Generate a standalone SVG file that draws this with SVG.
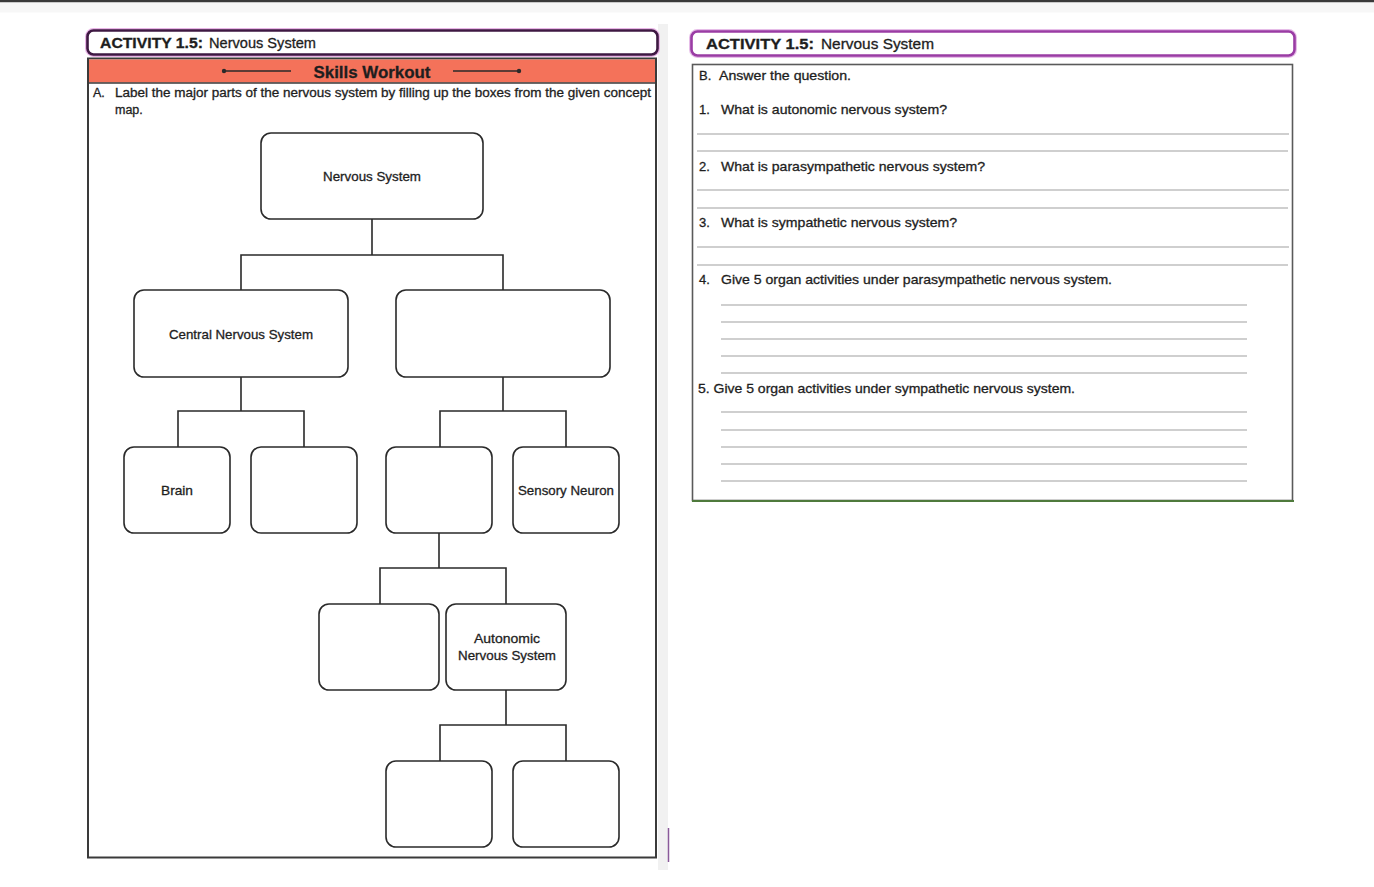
<svg xmlns="http://www.w3.org/2000/svg" width="1374" height="887" viewBox="0 0 1374 887">
<style>
  text { font-family: "Liberation Sans", Arial, sans-serif; fill: #1e1e1e; stroke: #1e1e1e; stroke-width: 0.3; }
  .node rect { fill: #fff; stroke: #2a2a2a; stroke-width: 1.6; }
  .node text { font-size: 13px; text-anchor: middle; }
  .conn path { fill: none; stroke: #2a2a2a; stroke-width: 1.6; }
  .rule { stroke: #cfcfcf; stroke-width: 2; }
  .q { font-size: 13px; }
  .hb { font-size: 14.5px; font-weight: bold; }
  .hn { font-size: 14.5px; }
</style>
<rect x="0" y="0" width="1374" height="887" fill="#ffffff"/>
<rect x="0" y="0" width="1374" height="2.5" fill="#3a3a3a"/>
<rect x="0" y="2.5" width="1374" height="10" fill="#f7f7f7"/>
<rect x="658" y="24" width="10" height="846" fill="#f1f1f1"/>
<line x1="668.5" y1="828" x2="668.5" y2="862" stroke="#8a5a9a" stroke-width="1.5"/>

<!-- Left panel -->
<g id="left-header">
  <rect x="87.5" y="30.5" width="570" height="24" rx="6" fill="#fff" stroke="#e8b4e6" stroke-width="5"/>
  <rect x="87.5" y="30.5" width="570" height="24" rx="6" fill="#fff" stroke="#3e1842" stroke-width="2.6"/>
  <text x="100" y="48" class="hb" textLength="103" lengthAdjust="spacingAndGlyphs">ACTIVITY 1.5:</text>
  <text x="209" y="48" class="hn" textLength="107" lengthAdjust="spacingAndGlyphs">Nervous System</text>
</g>
<g id="left-frame">
  <rect x="88" y="58.5" width="568" height="799" fill="none" stroke="#3a3a3a" stroke-width="2"/>
  <rect x="89" y="59.5" width="566" height="23" fill="#f4725a"/>
  <line x1="88" y1="83" x2="656" y2="83" stroke="#3a3a3a" stroke-width="1.6"/>
  <text x="372" y="77.5" font-size="16.5" font-weight="bold" text-anchor="middle" textLength="117" lengthAdjust="spacingAndGlyphs">Skills Workout</text>
  <line x1="224" y1="71" x2="291" y2="71" stroke="#2a2a2a" stroke-width="1.3"/>
  <circle cx="224" cy="71" r="2.2" fill="#2a2a2a"/>
  <line x1="453" y1="71" x2="519" y2="71" stroke="#2a2a2a" stroke-width="1.3"/>
  <circle cx="519" cy="71" r="2.2" fill="#2a2a2a"/>
  <text x="93" y="97" font-size="12.5">A.</text>
  <text x="115" y="97" font-size="12.5" textLength="536" lengthAdjust="spacingAndGlyphs">Label the major parts of the nervous system by filling up the boxes from the given concept</text>
  <text x="115" y="114" font-size="12.5">map.</text>
</g>

<g class="conn" id="connectors">
  <path d="M372 219 V255 M241 290 V255 H503 V290"/>
  <path d="M241 377 V411 M178 447 V411 H304 V447"/>
  <path d="M503 377 V411 M440 447 V411 H566 V447"/>
  <path d="M439 533 V568 M380 604 V568 H506 V604"/>
  <path d="M506 690 V725 M440 761 V725 H566 V761"/>
</g>

<g class="node" id="n-nervous-system">
  <rect x="261" y="133" width="222" height="86" rx="10"/>
  <text x="372" y="181" textLength="98" lengthAdjust="spacingAndGlyphs">Nervous System</text>
</g>
<g class="node" id="n-cns">
  <rect x="134" y="290" width="214" height="87" rx="10"/>
  <text x="241" y="339" textLength="144" lengthAdjust="spacingAndGlyphs">Central Nervous System</text>
</g>
<g class="node" id="n-pns">
  <rect x="396" y="290" width="214" height="87" rx="10"/>
</g>
<g class="node" id="n-brain">
  <rect x="124" y="447" width="106" height="86" rx="10"/>
  <text x="177" y="495" textLength="32" lengthAdjust="spacingAndGlyphs">Brain</text>
</g>
<g class="node" id="n-blank-cns2">
  <rect x="251" y="447" width="106" height="86" rx="10"/>
</g>
<g class="node" id="n-blank-pns1">
  <rect x="386" y="447" width="106" height="86" rx="10"/>
</g>
<g class="node" id="n-sensory">
  <rect x="513" y="447" width="106" height="86" rx="10"/>
  <text x="566" y="495" textLength="96" lengthAdjust="spacingAndGlyphs">Sensory Neuron</text>
</g>
<g class="node" id="n-blank-somatic">
  <rect x="319" y="604" width="120" height="86" rx="10"/>
</g>
<g class="node" id="n-autonomic">
  <rect x="446" y="604" width="120" height="86" rx="10"/>
  <text x="507" y="643" textLength="66" lengthAdjust="spacingAndGlyphs">Autonomic</text>
  <text x="507" y="660" textLength="98" lengthAdjust="spacingAndGlyphs">Nervous System</text>
</g>
<g class="node" id="n-blank-a1">
  <rect x="386" y="761" width="106" height="86" rx="10"/>
</g>
<g class="node" id="n-blank-a2">
  <rect x="513" y="761" width="106" height="86" rx="10"/>
</g>

<!-- Right panel -->
<g id="right-header">
  <rect x="691.5" y="31.5" width="603" height="24" rx="6" fill="#fff" stroke="#e6bde8" stroke-width="5"/>
  <rect x="691.5" y="31.5" width="603" height="24" rx="6" fill="#fff" stroke="#9a3ca4" stroke-width="2.6"/>
  <text x="706" y="49" class="hb" textLength="108" lengthAdjust="spacingAndGlyphs">ACTIVITY 1.5:</text>
  <text x="821" y="49" class="hn" textLength="113" lengthAdjust="spacingAndGlyphs">Nervous System</text>
</g>
<g id="right-frame">
  <rect x="692.5" y="64.5" width="600" height="436" fill="none" stroke="#5a5a5a" stroke-width="1.6"/>
  <line x1="692" y1="501" x2="1294" y2="501" stroke="#4f7a3c" stroke-width="2"/>
  <text x="699" y="80" class="q">B.</text>
  <text x="719" y="80" class="q" textLength="132" lengthAdjust="spacingAndGlyphs">Answer the question.</text>

  <text x="699" y="114" class="q">1.</text>
  <text x="721" y="114" class="q" textLength="226" lengthAdjust="spacingAndGlyphs">What is autonomic nervous system?</text>
  <line class="rule" x1="697" y1="134" x2="1289" y2="134"/>
  <line class="rule" x1="697" y1="151" x2="1288" y2="151"/>

  <text x="699" y="171" class="q">2.</text>
  <text x="721" y="171" class="q" textLength="264" lengthAdjust="spacingAndGlyphs">What is parasympathetic nervous system?</text>
  <line class="rule" x1="697" y1="190" x2="1289" y2="190"/>
  <line class="rule" x1="697" y1="208" x2="1288" y2="208"/>

  <text x="699" y="227" class="q">3.</text>
  <text x="721" y="227" class="q" textLength="236" lengthAdjust="spacingAndGlyphs">What is sympathetic nervous system?</text>
  <line class="rule" x1="697" y1="247" x2="1289" y2="247"/>
  <line class="rule" x1="697" y1="265" x2="1288" y2="265"/>

  <text x="699" y="284" class="q">4.</text>
  <text x="721" y="284" class="q" textLength="391" lengthAdjust="spacingAndGlyphs">Give 5 organ activities under parasympathetic nervous system.</text>
  <line class="rule" x1="721" y1="305" x2="1247" y2="305"/>
  <line class="rule" x1="721" y1="322" x2="1247" y2="322"/>
  <line class="rule" x1="721" y1="339" x2="1247" y2="339"/>
  <line class="rule" x1="721" y1="356" x2="1247" y2="356"/>
  <line class="rule" x1="721" y1="373" x2="1247" y2="373"/>

  <text x="698" y="393" class="q" textLength="377" lengthAdjust="spacingAndGlyphs">5. Give 5 organ activities under sympathetic nervous system.</text>
  <line class="rule" x1="721" y1="412" x2="1247" y2="412"/>
  <line class="rule" x1="721" y1="430" x2="1247" y2="430"/>
  <line class="rule" x1="721" y1="447" x2="1247" y2="447"/>
  <line class="rule" x1="721" y1="464" x2="1247" y2="464"/>
  <line class="rule" x1="721" y1="481" x2="1247" y2="481"/>
</g>
</svg>
